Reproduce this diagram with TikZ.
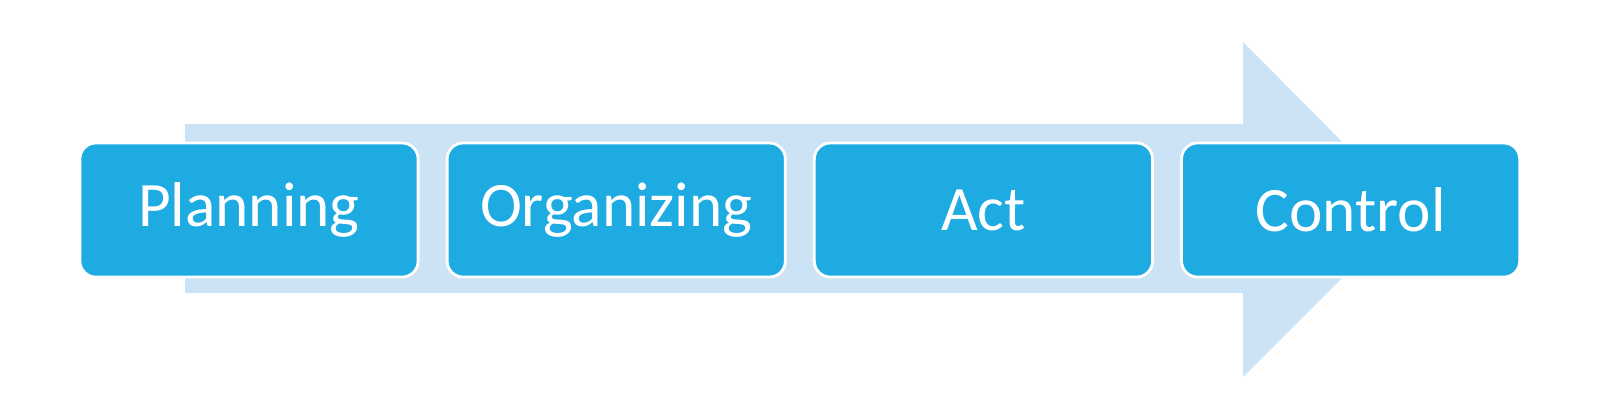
\documentclass[tikz,border=0pt]{standalone}
\usepackage{fontspec}
\setmainfont{Carlito}
\usepackage{tikz}
\usetikzlibrary{positioning}

\definecolor{stepblue}{HTML}{1DABE2}
\definecolor{arrowblue}{HTML}{CCE3F5}

\begin{document}
\begin{tikzpicture}[x=0.01cm,y=-0.01cm,node distance=0.29cm,
        stage/.style={rectangle,rounded corners=0.16cm,fill=stepblue,draw=white,
          line width=0.8pt,text=white,minimum width=3.38cm,minimum height=1.34cm,
          outer sep=0pt,inner sep=0pt,font=\fontsize{18}{20}\selectfont}]

  \useasboundingbox (0,0) rectangle (1600,414);

  % big arrow behind the boxes
  \fill[arrowblue] (185,124) -- (1243,124) -- (1243,42) -- (1410,210)
        -- (1243,377) -- (1243,293) -- (185,293) -- cycle;

  \node[stage] (plan) at (249,210) {Planning};
  \node[stage] (org) [right=of plan] {Organizing};
  \node[stage] (act) [right=of org] {Act};
  \node[stage] (ctrl) [right=of act] {Control};

\end{tikzpicture}
\end{document}
